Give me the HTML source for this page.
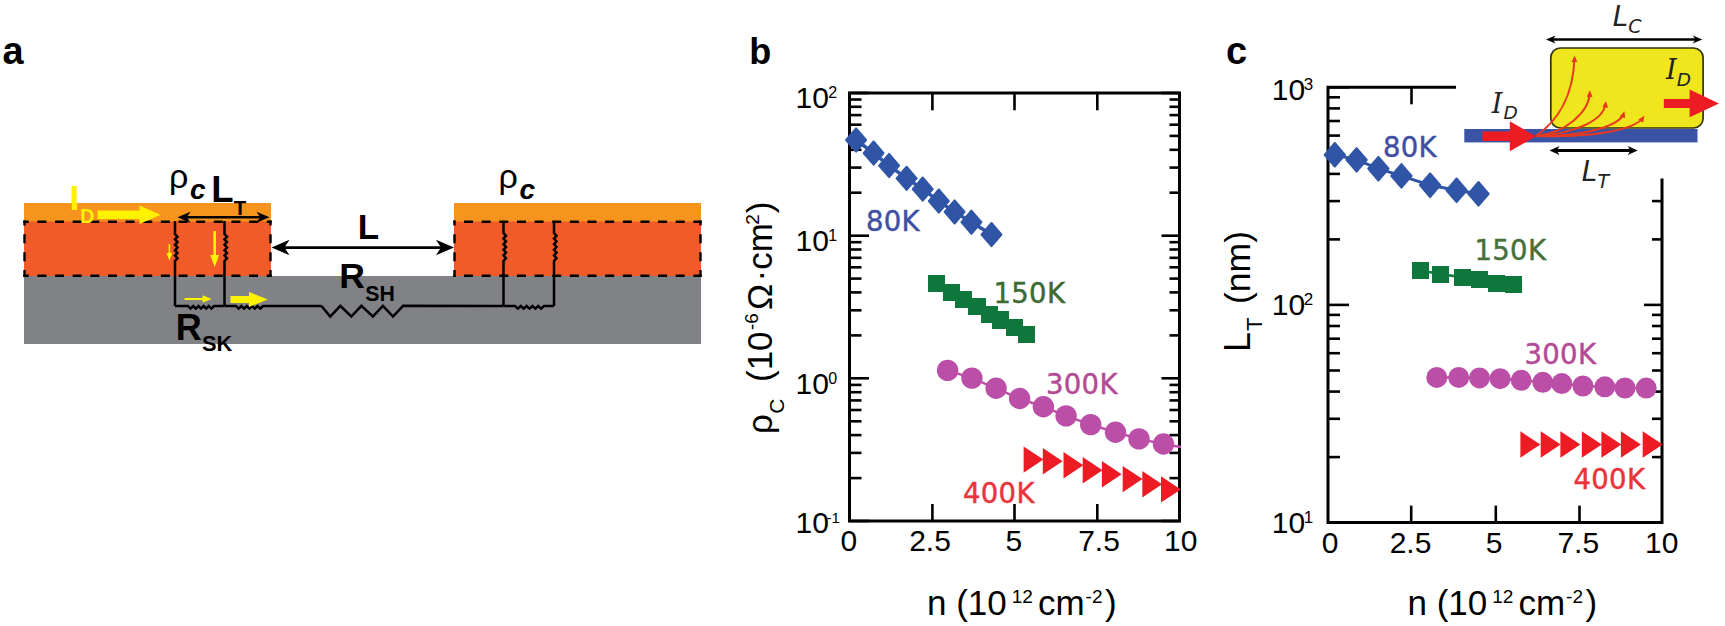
<!DOCTYPE html>
<html lang="en"><head><meta charset="utf-8"><title>Figure</title>
<style>html,body{margin:0;padding:0;background:#fff;}svg{display:block;}text{font-family:"Liberation Sans",sans-serif;}.b{font-weight:bold;}.dj{font-family:"DejaVu Sans",sans-serif;}.dji{font-family:"DejaVu Sans",sans-serif;font-style:oblique;}.si{font-family:"DejaVu Serif","Liberation Serif",serif;font-style:italic;}</style></head><body>
<svg width="1725" height="626" viewBox="0 0 1725 626">
<rect width="1725" height="626" fill="#fff"/>
<text x="2.6" y="63.9" font-size="38" class="b">a</text>
<text x="749.3" y="63.6" font-size="36" class="b">b</text>
<text x="1226" y="64" font-size="38" class="b">c</text>
<rect x="24" y="276" width="677" height="68" fill="#808285"/>
<rect x="24" y="203" width="247" height="19" fill="#f7941d"/>
<rect x="24" y="221.5" width="247" height="54.5" fill="#f15a29"/>
<line x1="23.3" y1="221.8" x2="271.7" y2="221.8" stroke="#000" stroke-width="2.4" stroke-dasharray="9 8.64" stroke-dashoffset="3.54"/>
<line x1="23.3" y1="275.8" x2="271.7" y2="275.8" stroke="#000" stroke-width="2.4" stroke-dasharray="9 8.64" stroke-dashoffset="3.54"/>
<line x1="24.5" y1="220.6" x2="24.5" y2="277" stroke="#000" stroke-width="2.4" stroke-dasharray="9 8.9" stroke-dashoffset="4.20"/>
<line x1="270.5" y1="220.6" x2="270.5" y2="277" stroke="#000" stroke-width="2.4" stroke-dasharray="9 8.9" stroke-dashoffset="4.20"/>
<rect x="454" y="203" width="247" height="19" fill="#f7941d"/>
<rect x="454" y="221.5" width="247" height="54.5" fill="#f15a29"/>
<line x1="453.3" y1="221.8" x2="701.7" y2="221.8" stroke="#000" stroke-width="2.4" stroke-dasharray="9 8.64" stroke-dashoffset="6.90"/>
<line x1="453.3" y1="275.8" x2="701.7" y2="275.8" stroke="#000" stroke-width="2.4" stroke-dasharray="9 8.64" stroke-dashoffset="6.90"/>
<line x1="454.5" y1="220.6" x2="454.5" y2="277" stroke="#000" stroke-width="2.4" stroke-dasharray="9 8.9" stroke-dashoffset="4.20"/>
<line x1="700.5" y1="220.6" x2="700.5" y2="277" stroke="#000" stroke-width="2.4" stroke-dasharray="9 8.9" stroke-dashoffset="4.20"/>
<path d="M175 221 L175 234 L177.5 236.7 L175 239.4 L177.5 242.1 L175 244.8 L177.5 247.5 L175 250.2 L177.5 252.9 L175 255.6 L177.5 258.3 L175 261.0 L175 306" fill="none" stroke="#000" stroke-width="2.5" stroke-linejoin="miter"/>
<path d="M224.5 221 L224.5 234 L227.0 236.7 L224.5 239.4 L227.0 242.1 L224.5 244.8 L227.0 247.5 L224.5 250.2 L227.0 252.9 L224.5 255.6 L227.0 258.3 L224.5 261.0 L224.5 306" fill="none" stroke="#000" stroke-width="2.5" stroke-linejoin="miter"/>
<path d="M503.5 221 L503.5 233 L506.0 235.8 L503.5 238.6 L506.0 241.4 L503.5 244.2 L506.0 247.0 L503.5 249.8 L506.0 252.6 L503.5 255.4 L506.0 258.2 L503.5 261.0 L503.5 306" fill="none" stroke="#000" stroke-width="2.5" stroke-linejoin="miter"/>
<path d="M554 221 L554 233 L556.5 235.8 L554 238.6 L556.5 241.4 L554 244.2 L556.5 247.0 L554 249.8 L556.5 252.6 L554 255.4 L556.5 258.2 L554 261.0 L554 306" fill="none" stroke="#000" stroke-width="2.5" stroke-linejoin="miter"/>
<path d="M175 306 L188 306 L190.6 308.6 L193.2 306 L195.8 308.6 L198.4 306 L201.0 308.6 L203.6 306 L206.2 308.6 L208.8 306 L211.4 308.6 L214.0 306 L224.5 306" fill="none" stroke="#000" stroke-width="2.5" stroke-linejoin="miter"/>
<path d="M224.5 306 L236 306 L238.7 308.6 L241.4 306 L244.1 308.6 L246.8 306 L249.5 308.6 L252.2 306 L254.9 308.6 L257.6 306 L260.3 308.6 L263.0 306 L321.5 306" fill="none" stroke="#000" stroke-width="2.5" stroke-linejoin="miter"/>
<path d="M321.5 306 L330.2 316.5 L340.3 305.8 L351.3 316.5 L361.4 305.8 L372.9 316.5 L382.9 305.8 L393 316.5 L403.1 305.8 L503.5 306" fill="none" stroke="#000" stroke-width="2.5" stroke-linejoin="miter"/>
<path d="M503.5 306 L515 306 L517.9 308.6 L520.8 306 L523.7 308.6 L526.6 306 L529.5 308.6 L532.4 306 L535.3 308.6 L538.2 306 L541.1 308.6 L544.0 306 L554 306" fill="none" stroke="#000" stroke-width="2.5" stroke-linejoin="miter"/>
<line x1="185.3" y1="217.3" x2="261.7" y2="217.3" stroke="#000" stroke-width="2.4"/>
<path d="M177.5 217.3 L190.5 211.8 L186.86 217.3 L190.5 222.8 Z" fill="#000"/>
<path d="M269.5 217.3 L256.5 211.8 L260.14 217.3 L256.5 222.8 Z" fill="#000"/>
<line x1="282.3" y1="247.6" x2="443.2" y2="247.6" stroke="#000" stroke-width="2.6"/>
<path d="M271.5 247.6 L289.5 239.85 L284.46 247.6 L289.5 255.35 Z" fill="#000"/>
<path d="M454 247.6 L436 239.85 L441.04 247.6 L436 255.35 Z" fill="#000"/>
<path d="M97.5 210.60000000000002 L139.5 210.60000000000002 L139.5 205.55 L160.7 214.8 L139.5 224.05 L139.5 219.0 L97.5 219.0 Z" fill="#fff200"/>
<path d="M230.5 295.9 L249 295.9 L249 291.9 L267.8 299.4 L249 306.9 L249 302.9 L230.5 302.9 Z" fill="#fff200"/>
<path d="M184.5 298.1 L202.5 298.1 L202.5 295.25 L211.7 299 L202.5 302.75 L202.5 299.9 L184.5 299.9 Z" fill="#fff200"/>
<path d="M168.6 244 L168.6 253 L166.4 253 L169.4 260.5 L172.4 253 L170.20000000000002 253 L170.20000000000002 244 Z" fill="#fff200"/>
<path d="M213.39999999999998 231 L213.39999999999998 255 L210.2 255 L214.7 267 L219.2 255 L216.0 255 L216.0 231 Z" fill="#fff200"/>
<text x="69.6" y="210.4" font-size="35" class="b" fill="#fff200">I</text>
<text x="80.3" y="223.1" font-size="19.5" class="b" fill="#fff200">D</text>
<text x="169" y="187.8" font-size="34">ρ</text>
<text x="190" y="199" font-size="28" class="b" font-style="italic">c</text>
<text x="211.3" y="202.2" font-size="36.5" class="b">L</text>
<text x="233.7" y="214.8" font-size="20.5" class="b">T</text>
<text x="357.8" y="239.4" font-size="35" class="b">L</text>
<text x="339.3" y="288.4" font-size="35.5" class="b">R</text>
<text x="365.3" y="300.8" font-size="21.3" class="b">SH</text>
<text x="175.8" y="339.9" font-size="36" class="b">R</text>
<text x="202" y="351.4" font-size="21.8" class="b">SK</text>
<text x="498.5" y="187.8" font-size="34">ρ</text>
<text x="519.5" y="199" font-size="28" class="b" font-style="italic">c</text>
<rect x="849.5" y="93" width="330.0" height="428" fill="none" stroke="#000" stroke-width="3"/>
<line x1="849.5" y1="93.0" x2="869.0" y2="93.0" stroke="#000" stroke-width="2.6"/>
<line x1="849.5" y1="192.7" x2="861.5" y2="192.7" stroke="#000" stroke-width="2.6"/>
<line x1="849.5" y1="167.6" x2="861.5" y2="167.6" stroke="#000" stroke-width="2.6"/>
<line x1="849.5" y1="149.8" x2="861.5" y2="149.8" stroke="#000" stroke-width="2.6"/>
<line x1="849.5" y1="135.9" x2="861.5" y2="135.9" stroke="#000" stroke-width="2.6"/>
<line x1="849.5" y1="124.7" x2="861.5" y2="124.7" stroke="#000" stroke-width="2.6"/>
<line x1="849.5" y1="115.1" x2="861.5" y2="115.1" stroke="#000" stroke-width="2.6"/>
<line x1="849.5" y1="106.8" x2="861.5" y2="106.8" stroke="#000" stroke-width="2.6"/>
<line x1="849.5" y1="99.5" x2="861.5" y2="99.5" stroke="#000" stroke-width="2.6"/>
<line x1="849.5" y1="235.7" x2="869.0" y2="235.7" stroke="#000" stroke-width="2.6"/>
<line x1="849.5" y1="335.4" x2="861.5" y2="335.4" stroke="#000" stroke-width="2.6"/>
<line x1="849.5" y1="310.3" x2="861.5" y2="310.3" stroke="#000" stroke-width="2.6"/>
<line x1="849.5" y1="292.4" x2="861.5" y2="292.4" stroke="#000" stroke-width="2.6"/>
<line x1="849.5" y1="278.6" x2="861.5" y2="278.6" stroke="#000" stroke-width="2.6"/>
<line x1="849.5" y1="267.3" x2="861.5" y2="267.3" stroke="#000" stroke-width="2.6"/>
<line x1="849.5" y1="257.8" x2="861.5" y2="257.8" stroke="#000" stroke-width="2.6"/>
<line x1="849.5" y1="249.5" x2="861.5" y2="249.5" stroke="#000" stroke-width="2.6"/>
<line x1="849.5" y1="242.2" x2="861.5" y2="242.2" stroke="#000" stroke-width="2.6"/>
<line x1="849.5" y1="378.3" x2="869.0" y2="378.3" stroke="#000" stroke-width="2.6"/>
<line x1="849.5" y1="478.1" x2="861.5" y2="478.1" stroke="#000" stroke-width="2.6"/>
<line x1="849.5" y1="452.9" x2="861.5" y2="452.9" stroke="#000" stroke-width="2.6"/>
<line x1="849.5" y1="435.1" x2="861.5" y2="435.1" stroke="#000" stroke-width="2.6"/>
<line x1="849.5" y1="421.3" x2="861.5" y2="421.3" stroke="#000" stroke-width="2.6"/>
<line x1="849.5" y1="410.0" x2="861.5" y2="410.0" stroke="#000" stroke-width="2.6"/>
<line x1="849.5" y1="400.4" x2="861.5" y2="400.4" stroke="#000" stroke-width="2.6"/>
<line x1="849.5" y1="392.2" x2="861.5" y2="392.2" stroke="#000" stroke-width="2.6"/>
<line x1="849.5" y1="384.9" x2="861.5" y2="384.9" stroke="#000" stroke-width="2.6"/>
<line x1="849.5" y1="521.0" x2="869.0" y2="521.0" stroke="#000" stroke-width="2.6"/>
<line x1="1179.5" y1="93.0" x2="1161.5" y2="93.0" stroke="#000" stroke-width="2.6"/>
<line x1="1179.5" y1="192.7" x2="1169.5" y2="192.7" stroke="#000" stroke-width="2.6"/>
<line x1="1179.5" y1="167.6" x2="1169.5" y2="167.6" stroke="#000" stroke-width="2.6"/>
<line x1="1179.5" y1="149.8" x2="1169.5" y2="149.8" stroke="#000" stroke-width="2.6"/>
<line x1="1179.5" y1="135.9" x2="1169.5" y2="135.9" stroke="#000" stroke-width="2.6"/>
<line x1="1179.5" y1="124.7" x2="1169.5" y2="124.7" stroke="#000" stroke-width="2.6"/>
<line x1="1179.5" y1="115.1" x2="1169.5" y2="115.1" stroke="#000" stroke-width="2.6"/>
<line x1="1179.5" y1="106.8" x2="1169.5" y2="106.8" stroke="#000" stroke-width="2.6"/>
<line x1="1179.5" y1="99.5" x2="1169.5" y2="99.5" stroke="#000" stroke-width="2.6"/>
<line x1="1179.5" y1="235.7" x2="1161.5" y2="235.7" stroke="#000" stroke-width="2.6"/>
<line x1="1179.5" y1="335.4" x2="1169.5" y2="335.4" stroke="#000" stroke-width="2.6"/>
<line x1="1179.5" y1="310.3" x2="1169.5" y2="310.3" stroke="#000" stroke-width="2.6"/>
<line x1="1179.5" y1="292.4" x2="1169.5" y2="292.4" stroke="#000" stroke-width="2.6"/>
<line x1="1179.5" y1="278.6" x2="1169.5" y2="278.6" stroke="#000" stroke-width="2.6"/>
<line x1="1179.5" y1="267.3" x2="1169.5" y2="267.3" stroke="#000" stroke-width="2.6"/>
<line x1="1179.5" y1="257.8" x2="1169.5" y2="257.8" stroke="#000" stroke-width="2.6"/>
<line x1="1179.5" y1="249.5" x2="1169.5" y2="249.5" stroke="#000" stroke-width="2.6"/>
<line x1="1179.5" y1="242.2" x2="1169.5" y2="242.2" stroke="#000" stroke-width="2.6"/>
<line x1="1179.5" y1="378.3" x2="1161.5" y2="378.3" stroke="#000" stroke-width="2.6"/>
<line x1="1179.5" y1="478.1" x2="1169.5" y2="478.1" stroke="#000" stroke-width="2.6"/>
<line x1="1179.5" y1="452.9" x2="1169.5" y2="452.9" stroke="#000" stroke-width="2.6"/>
<line x1="1179.5" y1="435.1" x2="1169.5" y2="435.1" stroke="#000" stroke-width="2.6"/>
<line x1="1179.5" y1="421.3" x2="1169.5" y2="421.3" stroke="#000" stroke-width="2.6"/>
<line x1="1179.5" y1="410.0" x2="1169.5" y2="410.0" stroke="#000" stroke-width="2.6"/>
<line x1="1179.5" y1="400.4" x2="1169.5" y2="400.4" stroke="#000" stroke-width="2.6"/>
<line x1="1179.5" y1="392.2" x2="1169.5" y2="392.2" stroke="#000" stroke-width="2.6"/>
<line x1="1179.5" y1="384.9" x2="1169.5" y2="384.9" stroke="#000" stroke-width="2.6"/>
<line x1="1179.5" y1="521.0" x2="1161.5" y2="521.0" stroke="#000" stroke-width="2.6"/>
<line x1="932.4" y1="521" x2="932.4" y2="504" stroke="#000" stroke-width="2.6"/>
<line x1="932.4" y1="93" x2="932.4" y2="110.3" stroke="#000" stroke-width="2.6"/>
<line x1="1014.5" y1="521" x2="1014.5" y2="504" stroke="#000" stroke-width="2.6"/>
<line x1="1014.5" y1="93" x2="1014.5" y2="110.3" stroke="#000" stroke-width="2.6"/>
<line x1="1097.3" y1="521" x2="1097.3" y2="504" stroke="#000" stroke-width="2.6"/>
<line x1="1097.3" y1="93" x2="1097.3" y2="110.3" stroke="#000" stroke-width="2.6"/>
<text x="795.5" y="108.3" font-size="30">10</text>
<text x="828.36" y="98.3" font-size="16">2</text>
<text x="795.5" y="251" font-size="30">10</text>
<text x="828.36" y="241" font-size="16">1</text>
<text x="795.5" y="393.5" font-size="30">10</text>
<text x="828.36" y="383.5" font-size="16">0</text>
<text x="795.5" y="532.7" font-size="30">10</text>
<text x="826.5" y="523" font-size="15">-1</text>
<text x="848.8" y="551.3" font-size="30" text-anchor="middle">0</text>
<text x="930" y="551.3" font-size="30" text-anchor="middle">2.5</text>
<text x="1013.8" y="551.3" font-size="30" text-anchor="middle">5</text>
<text x="1099" y="551.3" font-size="30" text-anchor="middle">7.5</text>
<text x="1180.8" y="551.3" font-size="30" text-anchor="middle">10</text>
<text x="927" y="615.3" font-size="35">n (10</text>
<text x="1011.8" y="602.5" font-size="19">12</text>
<text x="1038" y="615.3" font-size="35">cm</text>
<text x="1085.6" y="602.5" font-size="19">-2</text>
<text x="1105" y="615.3" font-size="35">)</text>
<g transform="translate(772,434) rotate(-90)">
<text x="0" y="0" font-size="35">ρ</text>
<text x="20.3" y="12" font-size="21">C</text>
<text x="52" y="0" font-size="35">(10</text>
<text x="104" y="-14.2" font-size="19">-6</text>
<text x="124" y="0" font-size="35">Ω</text>
<text x="152.6" y="0" font-size="35">·cm</text>
<text x="209.3" y="-13" font-size="19">2</text>
<text x="220.8" y="0" font-size="35">)</text>
</g>
<polyline points="856.1,140.0 873.6,153.1 889.1,165.6 906.6,178.3 922.7,189.1 938.8,201.1 954.6,211.9 971.4,222.2 991.5,234.6" fill="none" stroke="#3055a6" stroke-width="3.5"/>
<path d="M856.1 128.4 L866.1 140.0 L856.1 151.6 L846.1 140.0 Z" fill="#3055a6" stroke="#3055a6" stroke-width="2" stroke-linejoin="round"/>
<path d="M873.6 141.5 L883.6 153.1 L873.6 164.7 L863.6 153.1 Z" fill="#3055a6" stroke="#3055a6" stroke-width="2" stroke-linejoin="round"/>
<path d="M889.1 154.0 L899.1 165.6 L889.1 177.2 L879.1 165.6 Z" fill="#3055a6" stroke="#3055a6" stroke-width="2" stroke-linejoin="round"/>
<path d="M906.6 166.70000000000002 L916.6 178.3 L906.6 189.9 L896.6 178.3 Z" fill="#3055a6" stroke="#3055a6" stroke-width="2" stroke-linejoin="round"/>
<path d="M922.7 177.5 L932.7 189.1 L922.7 200.7 L912.7 189.1 Z" fill="#3055a6" stroke="#3055a6" stroke-width="2" stroke-linejoin="round"/>
<path d="M938.8 189.5 L948.8 201.1 L938.8 212.7 L928.8 201.1 Z" fill="#3055a6" stroke="#3055a6" stroke-width="2" stroke-linejoin="round"/>
<path d="M954.6 200.3 L964.6 211.9 L954.6 223.5 L944.6 211.9 Z" fill="#3055a6" stroke="#3055a6" stroke-width="2" stroke-linejoin="round"/>
<path d="M971.4 210.6 L981.4 222.2 L971.4 233.79999999999998 L961.4 222.2 Z" fill="#3055a6" stroke="#3055a6" stroke-width="2" stroke-linejoin="round"/>
<path d="M991.5 223.0 L1001.5 234.6 L991.5 246.2 L981.5 234.6 Z" fill="#3055a6" stroke="#3055a6" stroke-width="2" stroke-linejoin="round"/>
<polyline points="936.8,283.5 951.1,292.3 963.4,299.5 977.0,306.3 989.5,314.6 1000.2,319.9 1014.2,327.4 1026.5,334.3" fill="none" stroke="#0f773b" stroke-width="2.5"/>
<rect x="928.1" y="274.9" width="17.3" height="17.3" fill="#0f773b" shape-rendering="crispEdges"/>
<rect x="942.5" y="283.7" width="17.3" height="17.3" fill="#0f773b" shape-rendering="crispEdges"/>
<rect x="954.8" y="290.9" width="17.3" height="17.3" fill="#0f773b" shape-rendering="crispEdges"/>
<rect x="968.4" y="297.7" width="17.3" height="17.3" fill="#0f773b" shape-rendering="crispEdges"/>
<rect x="980.9" y="306.0" width="17.3" height="17.3" fill="#0f773b" shape-rendering="crispEdges"/>
<rect x="991.6" y="311.2" width="17.3" height="17.3" fill="#0f773b" shape-rendering="crispEdges"/>
<rect x="1005.6" y="318.8" width="17.3" height="17.3" fill="#0f773b" shape-rendering="crispEdges"/>
<rect x="1017.9" y="325.7" width="17.3" height="17.3" fill="#0f773b" shape-rendering="crispEdges"/>
<polyline points="947.6,370.4 971.9,378.1 996.1,388.3 1019.6,398.5 1043.4,406.7 1066.1,415.9 1090.7,424.6 1115.5,432.3 1139.0,438.9 1163.5,444.0" fill="none" stroke="#bb4fa8" stroke-width="2.5"/>
<circle cx="947.6" cy="370.4" r="10.7" fill="#bb4fa8"/>
<circle cx="971.9" cy="378.1" r="10.7" fill="#bb4fa8"/>
<circle cx="996.1" cy="388.3" r="10.7" fill="#bb4fa8"/>
<circle cx="1019.6" cy="398.5" r="10.7" fill="#bb4fa8"/>
<circle cx="1043.4" cy="406.7" r="10.7" fill="#bb4fa8"/>
<circle cx="1066.1" cy="415.9" r="10.7" fill="#bb4fa8"/>
<circle cx="1090.7" cy="424.6" r="10.7" fill="#bb4fa8"/>
<circle cx="1115.5" cy="432.3" r="10.7" fill="#bb4fa8"/>
<circle cx="1139.0" cy="438.9" r="10.7" fill="#bb4fa8"/>
<circle cx="1163.5" cy="444.0" r="10.7" fill="#bb4fa8"/>
<line x1="1163.5" y1="444" x2="1181" y2="447" stroke="#bb4fa8" stroke-width="2.5"/>
<path d="M1023.6 446.40000000000003 L1043.4 459.6 L1023.6 472.8 Z" fill="#ed1c24"/>
<path d="M1042.8 448.0 L1062.6 461.2 L1042.8 474.4 Z" fill="#ed1c24"/>
<path d="M1063.5 452.0 L1083.3 465.2 L1063.5 478.4 Z" fill="#ed1c24"/>
<path d="M1082.7 457.1 L1102.5 470.3 L1082.7 483.5 Z" fill="#ed1c24"/>
<path d="M1101.9 461.1 L1121.7 474.3 L1101.9 487.5 Z" fill="#ed1c24"/>
<path d="M1122.7 465.90000000000003 L1142.5 479.1 L1122.7 492.3 Z" fill="#ed1c24"/>
<path d="M1142.3 471.1 L1162.1 484.3 L1142.3 497.5 Z" fill="#ed1c24"/>
<path d="M1161.0 476.2 L1180.8 489.4 L1161.0 502.59999999999997 Z" fill="#ed1c24"/>
<text x="866" y="230.6" font-size="27.5" class="dj" fill="#3f4fa3" letter-spacing="0.3" stroke-width="0.45" paint-order="stroke" stroke="#3f4fa3">80K</text>
<text x="993.5" y="303" font-size="27.5" class="dj" fill="#3b6a33" letter-spacing="0.3" stroke-width="0.45" paint-order="stroke" stroke="#3b6a33">150K</text>
<text x="1046" y="394.4" font-size="27.5" class="dj" fill="#b34a96" letter-spacing="0.3" stroke-width="0.45" paint-order="stroke" stroke="#b34a96">300K</text>
<text x="963" y="502.8" font-size="27.5" class="dj" fill="#e8343a" letter-spacing="0.3" stroke-width="0.45" paint-order="stroke" stroke="#e8343a">400K</text>
<path d="M1456 87.3 L1328 87.3 L1328 522.6 L1662 522.6 L1662 178.5" fill="none" stroke="#000" stroke-width="3"/>
<line x1="1328" y1="87.3" x2="1349" y2="87.3" stroke="#000" stroke-width="2.6"/>
<line x1="1328" y1="239.4" x2="1340" y2="239.4" stroke="#000" stroke-width="2.6"/>
<line x1="1328" y1="201.1" x2="1340" y2="201.1" stroke="#000" stroke-width="2.6"/>
<line x1="1328" y1="173.9" x2="1340" y2="173.9" stroke="#000" stroke-width="2.6"/>
<line x1="1328" y1="152.8" x2="1340" y2="152.8" stroke="#000" stroke-width="2.6"/>
<line x1="1328" y1="135.6" x2="1340" y2="135.6" stroke="#000" stroke-width="2.6"/>
<line x1="1328" y1="121.0" x2="1340" y2="121.0" stroke="#000" stroke-width="2.6"/>
<line x1="1328" y1="108.4" x2="1340" y2="108.4" stroke="#000" stroke-width="2.6"/>
<line x1="1328" y1="97.3" x2="1340" y2="97.3" stroke="#000" stroke-width="2.6"/>
<line x1="1328" y1="304.9" x2="1349" y2="304.9" stroke="#000" stroke-width="2.6"/>
<line x1="1328" y1="457.1" x2="1340" y2="457.1" stroke="#000" stroke-width="2.6"/>
<line x1="1328" y1="418.8" x2="1340" y2="418.8" stroke="#000" stroke-width="2.6"/>
<line x1="1328" y1="391.6" x2="1340" y2="391.6" stroke="#000" stroke-width="2.6"/>
<line x1="1328" y1="370.5" x2="1340" y2="370.5" stroke="#000" stroke-width="2.6"/>
<line x1="1328" y1="353.2" x2="1340" y2="353.2" stroke="#000" stroke-width="2.6"/>
<line x1="1328" y1="338.7" x2="1340" y2="338.7" stroke="#000" stroke-width="2.6"/>
<line x1="1328" y1="326.0" x2="1340" y2="326.0" stroke="#000" stroke-width="2.6"/>
<line x1="1328" y1="314.9" x2="1340" y2="314.9" stroke="#000" stroke-width="2.6"/>
<line x1="1328" y1="522.6" x2="1349" y2="522.6" stroke="#000" stroke-width="2.6"/>
<line x1="1662" y1="239.4" x2="1652" y2="239.4" stroke="#000" stroke-width="2.6"/>
<line x1="1662" y1="201.1" x2="1652" y2="201.1" stroke="#000" stroke-width="2.6"/>
<line x1="1662" y1="304.9" x2="1644" y2="304.9" stroke="#000" stroke-width="2.6"/>
<line x1="1662" y1="457.1" x2="1652" y2="457.1" stroke="#000" stroke-width="2.6"/>
<line x1="1662" y1="418.8" x2="1652" y2="418.8" stroke="#000" stroke-width="2.6"/>
<line x1="1662" y1="391.6" x2="1652" y2="391.6" stroke="#000" stroke-width="2.6"/>
<line x1="1662" y1="370.5" x2="1652" y2="370.5" stroke="#000" stroke-width="2.6"/>
<line x1="1662" y1="353.2" x2="1652" y2="353.2" stroke="#000" stroke-width="2.6"/>
<line x1="1662" y1="338.7" x2="1652" y2="338.7" stroke="#000" stroke-width="2.6"/>
<line x1="1662" y1="326.0" x2="1652" y2="326.0" stroke="#000" stroke-width="2.6"/>
<line x1="1662" y1="314.9" x2="1652" y2="314.9" stroke="#000" stroke-width="2.6"/>
<line x1="1662" y1="522.6" x2="1644" y2="522.6" stroke="#000" stroke-width="2.6"/>
<line x1="1411.2" y1="522.6" x2="1411.2" y2="505.6" stroke="#000" stroke-width="2.6"/>
<line x1="1495.8" y1="522.6" x2="1495.8" y2="505.6" stroke="#000" stroke-width="2.6"/>
<line x1="1579.5" y1="522.6" x2="1579.5" y2="505.6" stroke="#000" stroke-width="2.6"/>
<line x1="1411.5" y1="87.3" x2="1411.5" y2="104.3" stroke="#000" stroke-width="2.6"/>
<text x="1271.8" y="100.2" font-size="30">10</text>
<text x="1303.6599999999999" y="90.2" font-size="17">3</text>
<text x="1271.8" y="315" font-size="30">10</text>
<text x="1303.6599999999999" y="305" font-size="17">2</text>
<text x="1271.8" y="533" font-size="30">10</text>
<text x="1303.6599999999999" y="523" font-size="17">1</text>
<text x="1330" y="552.6" font-size="30" text-anchor="middle">0</text>
<text x="1410.5" y="552.6" font-size="30" text-anchor="middle">2.5</text>
<text x="1494.2" y="552.6" font-size="30" text-anchor="middle">5</text>
<text x="1578.3" y="552.6" font-size="30" text-anchor="middle">7.5</text>
<text x="1661.7" y="552.6" font-size="30" text-anchor="middle">10</text>
<text x="1407.5" y="615.3" font-size="35">n (10</text>
<text x="1492.3" y="602.5" font-size="19">12</text>
<text x="1518.5" y="615.3" font-size="35">cm</text>
<text x="1566.1" y="602.5" font-size="19">-2</text>
<text x="1585.5" y="615.3" font-size="35">)</text>
<g transform="translate(1249.6,352) rotate(-90)">
<text x="0" y="0" font-size="36">L</text>
<text x="21" y="12.5" font-size="22">T</text>
<text x="48" y="0" font-size="35.5">(nm)</text>
</g>
<polyline points="1334.8,154.8 1356.6,159.9 1378.4,168.7 1401.4,175.9 1430.1,185.2 1456.6,190.3 1478.5,193.8" fill="none" stroke="#3055a6" stroke-width="3"/>
<path d="M1334.8 143.0 L1345.0 154.8 L1334.8 166.60000000000002 L1324.6 154.8 Z" fill="#3055a6" stroke="#3055a6" stroke-width="2" stroke-linejoin="round"/>
<path d="M1356.6 148.1 L1366.8 159.9 L1356.6 171.70000000000002 L1346.3999999999999 159.9 Z" fill="#3055a6" stroke="#3055a6" stroke-width="2" stroke-linejoin="round"/>
<path d="M1378.4 156.89999999999998 L1388.6000000000001 168.7 L1378.4 180.5 L1368.2 168.7 Z" fill="#3055a6" stroke="#3055a6" stroke-width="2" stroke-linejoin="round"/>
<path d="M1401.4 164.1 L1411.6000000000001 175.9 L1401.4 187.70000000000002 L1391.2 175.9 Z" fill="#3055a6" stroke="#3055a6" stroke-width="2" stroke-linejoin="round"/>
<path d="M1430.1 173.39999999999998 L1440.3 185.2 L1430.1 197.0 L1419.8999999999999 185.2 Z" fill="#3055a6" stroke="#3055a6" stroke-width="2" stroke-linejoin="round"/>
<path d="M1456.6 178.5 L1466.8 190.3 L1456.6 202.10000000000002 L1446.3999999999999 190.3 Z" fill="#3055a6" stroke="#3055a6" stroke-width="2" stroke-linejoin="round"/>
<path d="M1478.5 182.0 L1488.7 193.8 L1478.5 205.60000000000002 L1468.3 193.8 Z" fill="#3055a6" stroke="#3055a6" stroke-width="2" stroke-linejoin="round"/>
<polyline points="1420.7,270.6 1440.3,274 1462,277.2 1479.8,279.3 1496.2,283.1 1513.8,284.5" fill="none" stroke="#0f773b" stroke-width="2.5"/>
<rect x="1412.2" y="262.1" width="17" height="17" fill="#0f773b" shape-rendering="crispEdges"/>
<rect x="1431.8" y="265.5" width="17" height="17" fill="#0f773b" shape-rendering="crispEdges"/>
<rect x="1453.5" y="268.7" width="17" height="17" fill="#0f773b" shape-rendering="crispEdges"/>
<rect x="1471.3" y="270.8" width="17" height="17" fill="#0f773b" shape-rendering="crispEdges"/>
<rect x="1487.7" y="274.6" width="17" height="17" fill="#0f773b" shape-rendering="crispEdges"/>
<rect x="1505.3" y="276.0" width="17" height="17" fill="#0f773b" shape-rendering="crispEdges"/>
<polyline points="1436.8,377.4 1458.7,377.4 1479.5,377.9 1500.1,378.7 1521.2,380.3 1542.8,382.3 1561.8,383.6 1582.9,386 1604.8,386.8 1625,388 1646.2,388.1" fill="none" stroke="#bb4fa8" stroke-width="2.5"/>
<circle cx="1436.8" cy="377.4" r="10.5" fill="#bb4fa8"/>
<circle cx="1458.7" cy="377.4" r="10.5" fill="#bb4fa8"/>
<circle cx="1479.5" cy="377.9" r="10.5" fill="#bb4fa8"/>
<circle cx="1500.1" cy="378.7" r="10.5" fill="#bb4fa8"/>
<circle cx="1521.2" cy="380.3" r="10.5" fill="#bb4fa8"/>
<circle cx="1542.8" cy="382.3" r="10.5" fill="#bb4fa8"/>
<circle cx="1561.8" cy="383.6" r="10.5" fill="#bb4fa8"/>
<circle cx="1582.9" cy="386" r="10.5" fill="#bb4fa8"/>
<circle cx="1604.8" cy="386.8" r="10.5" fill="#bb4fa8"/>
<circle cx="1625" cy="388" r="10.5" fill="#bb4fa8"/>
<circle cx="1646.2" cy="388.1" r="10.5" fill="#bb4fa8"/>
<path d="M1520.4 431.3 L1540.4 444.5 L1520.4 457.7 Z" fill="#ed1c24"/>
<path d="M1540.7 431.3 L1560.7 444.5 L1540.7 457.7 Z" fill="#ed1c24"/>
<path d="M1560.4 431.3 L1580.4 444.5 L1560.4 457.7 Z" fill="#ed1c24"/>
<path d="M1581.8 431.3 L1601.8 444.5 L1581.8 457.7 Z" fill="#ed1c24"/>
<path d="M1601.4 431.3 L1621.4 444.5 L1601.4 457.7 Z" fill="#ed1c24"/>
<path d="M1620.9 431.3 L1640.9 444.5 L1620.9 457.7 Z" fill="#ed1c24"/>
<path d="M1642.7 431.3 L1662.7 444.5 L1642.7 457.7 Z" fill="#ed1c24"/>
<text x="1383" y="156.5" font-size="27.5" class="dj" fill="#3f4fa3" letter-spacing="0.3" stroke-width="0.45" paint-order="stroke" stroke="#3f4fa3">80K</text>
<text x="1474.5" y="260.2" font-size="27.5" class="dj" fill="#46703a" letter-spacing="0.3" stroke-width="0.45" paint-order="stroke" stroke="#46703a">150K</text>
<text x="1524.5" y="364.3" font-size="27.5" class="dj" fill="#b34a96" letter-spacing="0.3" stroke-width="0.45" paint-order="stroke" stroke="#b34a96">300K</text>
<text x="1573.5" y="489.3" font-size="27.5" class="dj" fill="#e8343a" letter-spacing="0.3" stroke-width="0.45" paint-order="stroke" stroke="#e8343a">400K</text>
<rect x="1464.3" y="129" width="233.2" height="13.4" fill="#3a53a4"/>
<rect x="1550.8" y="48" width="152.3" height="80" rx="9.5" ry="9.5" fill="#efe61e" stroke="#33330f" stroke-width="1.7"/>
<line x1="1551.7" y1="39.5" x2="1696.6" y2="39.5" stroke="#000" stroke-width="2.6"/>
<path d="M1546 39.5 L1555.5 35.5 L1552.84 39.5 L1555.5 43.5 Z" fill="#000"/>
<path d="M1702.3 39.5 L1692.8 35.5 L1695.46 39.5 L1692.8 43.5 Z" fill="#000"/>
<line x1="1555.5" y1="150.5" x2="1631.7" y2="150.5" stroke="#000" stroke-width="2.8"/>
<path d="M1549.5 150.5 L1559.5 145.9 L1556.7 150.5 L1559.5 155.1 Z" fill="#000"/>
<path d="M1637.7 150.5 L1627.7 145.9 L1630.5 150.5 L1627.7 155.1 Z" fill="#000"/>
<path d="M1536 136 C1556 122 1573 100 1574.5 58" fill="none" stroke="#e8391f" stroke-width="2"/>
<path d="M1574.6 55.5 L1577.3 62.1 L1571.5 61.9 Z" fill="#e8391f"/>
<path d="M1536 136 C1566 133 1589 112 1589.8 92.8" fill="none" stroke="#e8391f" stroke-width="2"/>
<path d="M1589.9 90.3 L1592.5 96.9 L1586.7 96.7 Z" fill="#e8391f"/>
<path d="M1536 136 C1575 134 1604 120 1605.6 103.5" fill="none" stroke="#e8391f" stroke-width="2"/>
<path d="M1605.8 101.0 L1608.1 107.8 L1602.3 107.2 Z" fill="#e8391f"/>
<path d="M1536 136 C1590 137 1620 124 1623.7 113.6" fill="none" stroke="#e8391f" stroke-width="2"/>
<path d="M1624.5 111.2 L1625.1 118.3 L1619.6 116.4 Z" fill="#e8391f"/>
<path d="M1536 136 C1600 138 1636 128 1643 117.8" fill="none" stroke="#e8391f" stroke-width="2"/>
<path d="M1644.4 115.7 L1643.1 122.7 L1638.3 119.5 Z" fill="#e8391f"/>
<path d="M1482.4 131.60000000000002 L1509.8 131.60000000000002 L1509.8 121.30000000000001 L1536 136.3 L1509.8 151.3 L1509.8 141.0 L1482.4 141.0 Z" fill="#ed1c24"/>
<path d="M1663.8 98.9 L1689.6 98.9 L1689.6 89.60000000000001 L1719 103.4 L1689.6 117.2 L1689.6 107.9 L1663.8 107.9 Z" fill="#ed1c24"/>
<text x="1612.7" y="26.2" font-size="27.5" class="dji" fill="#222">L</text>
<text x="1628.3" y="33.2" font-size="19" class="dji" fill="#222">C</text>
<text x="1581.7" y="181.2" font-size="27.5" class="dji" fill="#222">L</text>
<text x="1597.5" y="187.8" font-size="19" class="dji" fill="#222">T</text>
<text x="1491.8" y="112.5" font-size="27" class="si" fill="#222">I</text>
<text x="1503.6" y="119.3" font-size="18.5" class="dji" fill="#222">D</text>
<text x="1666" y="79.2" font-size="27" class="si" fill="#222">I</text>
<text x="1676.8" y="86" font-size="18.5" class="dji" fill="#222">D</text>
</svg></body></html>
